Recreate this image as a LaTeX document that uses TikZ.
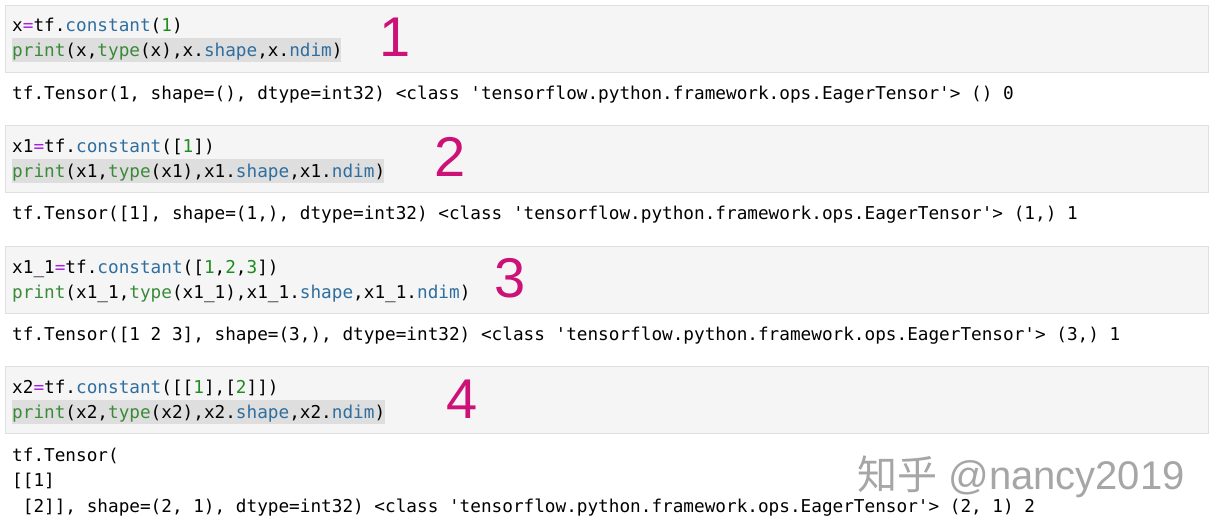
\documentclass[tikz,border=0pt]{standalone}
\usepackage{fontspec}
\setmainfont{Liberation Sans}
\setmonofont{DejaVu Sans Mono}
\newfontfamily\cjk{Noto Sans CJK SC}
\definecolor{kw}{HTML}{3A8A3A}
\definecolor{at}{HTML}{2F6E9E}
\definecolor{eq}{HTML}{A622E0}
\definecolor{nm}{HTML}{1E8C1E}
\definecolor{cellbg}{HTML}{F5F5F5}
\definecolor{cellbd}{HTML}{E0E0E0}
\definecolor{hl}{HTML}{DEDEDE}
\definecolor{mark}{HTML}{CC1177}
\newcommand{\K}[1]{\textcolor{kw}{#1}}
\newcommand{\A}[1]{\textcolor{at}{#1}}
\newcommand{\E}{\textcolor{eq}{=}}
\newcommand{\N}[1]{\textcolor{nm}{#1}}
\begin{document}
\begin{tikzpicture}[x=1pt,y=-1pt,
  code/.style={anchor=base west,inner sep=0pt,font=\fontsize{17.7}{20}\ttfamily},
  cell/.style={fill=cellbg,draw=cellbd,line width=0.8pt},
  hlbox/.style={fill=hl,draw=none},
  bignum/.style={text=mark,font=\fontsize{56}{60}\selectfont,inner sep=0pt}]
\useasboundingbox (0,0) rectangle (1216,530);
\fill[white] (0,0) rectangle (1216,530);
% cells
\draw[cell] (5,5) rectangle (1208,72);
\draw[cell] (5,125) rectangle (1208,192);
\draw[cell] (5,246) rectangle (1208,313);
\draw[cell] (5,366) rectangle (1208,433);
% highlights
\fill[hlbox] (12,38) rectangle (341,62);
\fill[hlbox] (12,159) rectangle (384,183);
\fill[hlbox] (12,400) rectangle (385,424);
% cell 1
\node[code] (c1a) at (12,31) {x\E tf.\A{constant}(\N{1})};
\node[code] (c1b) at (12,56) {\K{print}(x,\K{type}(x),x.\A{shape},x.\A{ndim})};
\node[bignum] (n1) at (395,37) {1};
\node[code] (o1) at (12,99) {tf.Tensor(1, shape=(), dtype=int32) <class 'tensorflow.python.framework.ops.EagerTensor'> () 0};
% cell 2
\node[code] (c2a) at (12,152) {x1\E tf.\A{constant}([\N{1}])};
\node[code] (c2b) at (12,177) {\K{print}(x1,\K{type}(x1),x1.\A{shape},x1.\A{ndim})};
\node[bignum] (n2) at (450,157) {2};
\node[code] (o2) at (12,219) {tf.Tensor([1], shape=(1,), dtype=int32) <class 'tensorflow.python.framework.ops.EagerTensor'> (1,) 1};
% cell 3
\node[code] (c3a) at (12,273) {x1\_1\E tf.\A{constant}([\N{1},\N{2},\N{3}])};
\node[code] (c3b) at (12,298) {\K{print}(x1\_1,\K{type}(x1\_1),x1\_1.\A{shape},x1\_1.\A{ndim})};
\node[bignum] (n3) at (510,278) {3};
\node[code] (o3) at (12,340) {tf.Tensor([1 2 3], shape=(3,), dtype=int32) <class 'tensorflow.python.framework.ops.EagerTensor'> (3,) 1};
% cell 4
\node[code] (c4a) at (12,393) {x2\E tf.\A{constant}([[\N{1}],[\N{2}]])};
\node[code] (c4b) at (12,418) {\K{print}(x2,\K{type}(x2),x2.\A{shape},x2.\A{ndim})};
\node[bignum] (n4) at (462,399) {4};
\node[code] (o4a) at (12,461) {tf.Tensor(};
\node[code] (o4b) at (12,486) {[[1]};
\node[code] (o4c) at (12,512) {\ [2]], shape=(2, 1), dtype=int32) <class 'tensorflow.python.framework.ops.EagerTensor'> (2, 1) 2};
% watermark
\node[text=black!35,font=\fontsize{40}{44}\selectfont,anchor=center,inner sep=0pt] (wm) at (1021,477) {{\cjk 知乎} @nancy2019};
\end{tikzpicture}
\end{document}
